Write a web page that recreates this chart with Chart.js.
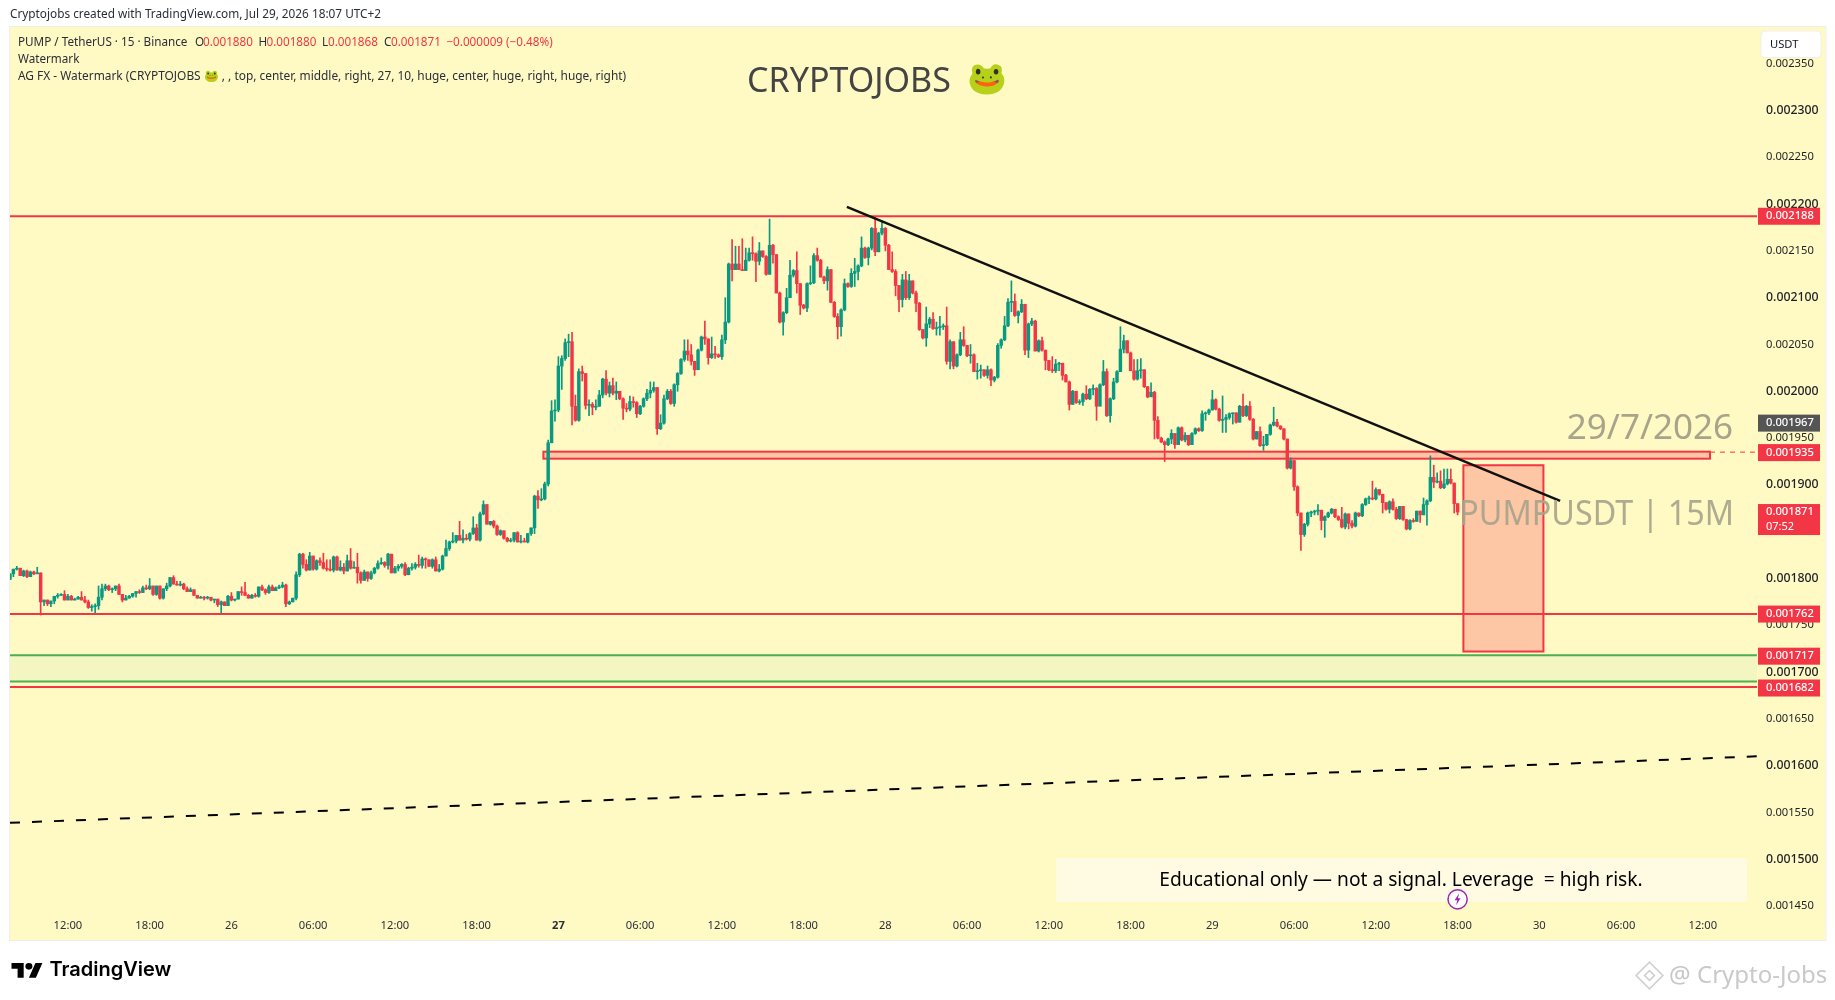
<!DOCTYPE html>
<html>
<head>
<meta charset="utf-8">
<title>PUMPUSDT 15M</title>
<script src="https://cdn.jsdelivr.net/npm/chart.js@4"></script>
<style>
    html, body { margin: 0; padding: 0; background: #ffffff; }
    canvas { display: block; }
</style>
</head>
<body>
<canvas id="priceChart" width="1835" height="1000"></canvas>
<script>
// prices are in millionths of USDT, one entry per 15 minute candle
const firstOpen = 1799;
const closes = [
    1805,1810,1811,1803,1808,1802,1807,1805,1806,1775,
    1777,1773,1776,1781,1782,1783,1777,1781,1777,1778,
    1780,1777,1775,1769,1770,1771,1780,1789,1792,1788,
    1789,1792,1783,1777,1779,1781,1784,1786,1785,1790,
    1789,1792,1783,1792,1779,1789,1792,1801,1794,1793,
    1794,1789,1786,1788,1782,1779,1780,1779,1780,1777,
    1778,1772,1775,1771,1781,1777,1778,1786,1785,1782,
    1779,1782,1781,1791,1788,1785,1791,1787,1790,1791,
    1793,1773,1775,1779,1804,1826,1815,1809,1824,1810,
    1819,1817,1811,1810,1809,1823,1809,1812,1808,1819,
    1811,1812,1806,1798,1807,1800,1806,1811,1816,1817,
    1814,1826,1806,1811,1813,1815,1804,1811,1812,1815,
    1814,1821,1820,1813,1820,1808,1810,1824,1832,1839,
    1840,1846,1841,1843,1842,1848,1854,1841,1869,1879,
    1858,1861,1856,1847,1851,1843,1840,1841,1849,1839,
    1840,1839,1848,1854,1888,1884,1885,1901,1945,1979,
    1980,2027,2035,2052,2053,1984,1969,2021,2019,1985,
    1986,1983,1984,1996,2013,1998,2006,1998,2000,1992,
    1982,1981,1989,1988,1976,1984,1992,1998,2001,2004,
    1960,1966,1992,2000,1987,2007,2019,2034,2043,2039,
    2032,2023,2044,2058,2056,2036,2040,2039,2037,2055,
    2074,2136,2130,2136,2130,2129,2140,2148,2147,2139,
    2150,2144,2125,2156,2146,2105,2074,2084,2100,2124,
    2129,2115,2092,2089,2115,2116,2145,2140,2122,2118,
    2130,2095,2080,2069,2087,2115,2112,2126,2128,2134,
    2153,2143,2153,2174,2149,2169,2174,2156,2130,2128,
    2113,2098,2119,2100,2118,2105,2094,2066,2057,2072,
    2077,2067,2068,2069,2070,2032,2053,2027,2039,2055,
    2049,2038,2039,2021,2022,2023,2017,2023,2012,2015,
    2049,2055,2070,2095,2096,2081,2085,2093,2044,2072,
    2075,2043,2054,2044,2033,2023,2022,2029,2030,2017,
    2010,1986,2000,1988,1989,1997,1992,2002,2003,1984,
    2007,2021,1974,1992,2010,2021,2045,2054,2041,2022,
    2013,2022,2023,2005,1994,1999,1969,1950,1946,1943,
    1949,1955,1943,1961,1948,1953,1943,1955,1960,1958,
    1976,1977,1980,1991,1981,1969,1970,1972,1976,1977,
    1967,1984,1974,1984,1970,1949,1957,1942,1943,1954,
    1964,1967,1963,1960,1949,1918,1926,1898,1870,1847,
    1858,1870,1871,1872,1873,1862,1866,1870,1874,1866,
    1863,1855,1869,1859,1856,1870,1867,1879,1885,1886,
    1885,1895,1890,1881,1874,1882,1874,1864,1877,1863,
    1853,1862,1861,1872,1868,1879,1883,1908,1903,1904,
    1897,1901,1906,1902,1880,1871
];
const highs = [
    1805,1810,1813,1811,1809,1809,1808,1808,1812,1806,
    1777,1777,1776,1781,1784,1784,1787,1783,1782,1779,
    1781,1786,1781,1777,1772,1773,1792,1794,1794,1793,
    1790,1792,1794,1783,1782,1782,1784,1786,1788,1792,
    1793,1800,1792,1792,1792,1789,1795,1801,1803,1797,
    1797,1795,1791,1790,1788,1782,1781,1781,1781,1780,
    1778,1778,1776,1775,1782,1785,1778,1786,1791,1796,
    1783,1783,1784,1791,1793,1789,1793,1793,1791,1793,
    1796,1794,1776,1779,1807,1827,1827,1820,1828,1824,
    1820,1822,1827,1820,1820,1824,1824,1819,1816,1825,
    1832,1818,1827,1807,1809,1807,1808,1812,1819,1822,
    1818,1827,1826,1813,1815,1816,1817,1812,1816,1817,
    1825,1823,1822,1820,1821,1823,1815,1825,1841,1840,
    1849,1846,1861,1852,1847,1849,1866,1858,1871,1883,
    1879,1861,1862,1857,1852,1851,1844,1843,1849,1850,
    1846,1843,1848,1854,1889,1894,1896,1903,1948,1990,
    1991,2037,2038,2056,2061,2063,1996,2024,2027,2019,
    1991,1988,1991,2001,2014,2022,2010,2014,2010,2000,
    1993,1987,1995,1994,1989,1985,1993,2002,2010,2010,
    2004,1975,1996,2002,2002,2008,2020,2035,2055,2055,
    2050,2032,2045,2059,2075,2056,2058,2048,2040,2060,
    2100,2137,2162,2155,2155,2163,2153,2153,2165,2148,
    2159,2150,2145,2184,2157,2146,2106,2085,2110,2140,
    2130,2149,2115,2093,2116,2134,2147,2153,2141,2123,
    2133,2130,2096,2083,2088,2120,2116,2131,2142,2135,
    2165,2154,2154,2175,2187,2170,2182,2175,2157,2149,
    2130,2113,2125,2128,2125,2118,2107,2095,2066,2090,
    2079,2084,2074,2080,2072,2090,2055,2053,2040,2063,
    2069,2049,2050,2040,2030,2028,2023,2027,2024,2016,
    2051,2056,2080,2099,2118,2104,2086,2098,2093,2073,
    2078,2076,2055,2058,2044,2033,2037,2034,2031,2030,
    2018,2011,2001,2000,1991,1998,2006,2003,2007,2004,
    2008,2033,2024,1993,2014,2022,2069,2060,2054,2042,
    2034,2034,2035,2023,2005,2009,2000,1973,1951,1947,
    1950,1959,1953,1962,1962,1956,1952,1956,1961,1961,
    1979,1978,1981,2001,1992,1982,1995,1975,1977,1977,
    1977,1985,1997,1985,1989,1971,1957,1962,1952,1954,
    1965,1983,1970,1963,1960,1949,1929,1926,1899,1870,
    1859,1871,1872,1873,1879,1873,1867,1871,1875,1874,
    1867,1876,1870,1869,1862,1871,1870,1880,1886,1888,
    1904,1897,1895,1890,1881,1883,1885,1876,1877,1877,
    1863,1863,1864,1872,1872,1886,1884,1931,1921,1913,
    1915,1917,1917,1917,1902,1880
];
const lows = [
    1799,1802,1809,1803,1802,1801,1802,1804,1805,1761,
    1771,1771,1770,1773,1779,1782,1777,1777,1777,1777,
    1778,1777,1774,1768,1765,1763,1767,1777,1787,1787,
    1785,1787,1783,1775,1777,1779,1780,1780,1784,1785,
    1788,1788,1782,1782,1778,1778,1787,1791,1794,1793,
    1792,1788,1786,1786,1782,1779,1779,1777,1778,1776,
    1774,1770,1763,1771,1771,1776,1776,1778,1782,1782,
    1779,1779,1780,1780,1787,1783,1784,1787,1787,1789,
    1790,1770,1772,1775,1777,1802,1811,1808,1809,1809,
    1809,1814,1810,1808,1808,1807,1809,1808,1805,1808,
    1810,1811,1795,1795,1798,1797,1799,1805,1810,1815,
    1812,1810,1806,1806,1808,1811,1803,1804,1809,1810,
    1812,1811,1811,1813,1811,1808,1807,1809,1824,1830,
    1838,1838,1841,1838,1841,1840,1847,1841,1840,1868,
    1858,1857,1854,1846,1846,1842,1839,1839,1839,1839,
    1838,1839,1838,1846,1848,1875,1883,1884,1899,1945,
    1968,1978,2002,2033,2037,1964,1968,1968,2011,1981,
    1974,1975,1980,1984,1993,1996,1994,1996,1991,1991,
    1970,1978,1979,1983,1972,1975,1983,1990,1993,1999,
    1954,1959,1965,1991,1986,1984,2000,2018,2032,2033,
    2028,2017,2023,2043,2050,2029,2035,2035,2036,2034,
    2051,2073,2118,2130,2130,2129,2129,2139,2140,2117,
    2135,2143,2124,2125,2137,2105,2073,2060,2083,2100,
    2122,2105,2082,2088,2085,2114,2115,2139,2122,2115,
    2108,2095,2079,2056,2059,2086,2111,2111,2112,2119,
    2133,2142,2135,2151,2145,2149,2167,2150,2130,2127,
    2102,2085,2090,2098,2098,2104,2085,2065,2056,2048,
    2068,2066,2060,2060,2066,2029,2024,2024,2026,2038,
    2048,2037,2030,2021,2013,2014,2016,2014,2006,2010,
    2014,2046,2054,2069,2085,2080,2073,2084,2039,2036,
    2070,2043,2042,2043,2023,2022,2020,2020,2022,2012,
    2010,1980,1986,1987,1986,1985,1991,1991,1996,1969,
    1985,2006,1973,1967,1991,2009,2021,2041,2041,2022,
    2012,2012,2014,2004,1993,1995,1949,1949,1945,1925,
    1942,1944,1939,1945,1947,1946,1942,1944,1954,1957,
    1957,1969,1975,1980,1980,1968,1956,1956,1970,1965,
    1966,1967,1973,1973,1969,1948,1949,1941,1937,1942,
    1953,1963,1962,1959,1948,1917,1917,1894,1867,1830,
    1845,1856,1866,1868,1868,1852,1844,1865,1869,1865,
    1862,1854,1853,1853,1854,1855,1866,1866,1878,1880,
    1884,1884,1889,1870,1873,1870,1873,1863,1863,1862,
    1852,1852,1860,1861,1860,1868,1857,1882,1897,1902,
    1896,1896,1900,1901,1870,1868
];

const timeTickIndex = [17,41,65,89,113,137,161,185,209,233,257,281,305,329,353,377,401,425,449,473,497];
const timeTickLabels = ["12:00","18:00","26","06:00","12:00","18:00","27","06:00","12:00","18:00","28","06:00","12:00","18:00","29","06:00","12:00","18:00","30","06:00","12:00"];
const priceTicks = [1450,1500,1550,1600,1650,1700,1750,1800,1850,1900,1950,2000,2050,2100,2150,2200,2250,2300,2350];

const xRange = [0, 512.9];
const yRange = [1443.7, 2389.2];

// drawings on the chart: [start, end] in candle index and price
const redLevels = [2187, 1762, 1684];
const greenBand = [1718, 1690];
const zoneX = [156.6, 499.1];
const zoneY = [1928, 1935.5];
const targetX = [426.7, 450.2];
const targetY = [1722, 1921];
const trendX = [245.7, 455.1];
const trendY = [2197, 1883];
const longTrendX = [0, 512.9];
const longTrendY = [1539, 1610];

// boxes on the price axis
const axisLabels = [
    { price: 2187, text: "0.002188", color: "#f23645" },
    { price: 1966, text: "0.001967", color: "#555555" },
    { price: 1934.5, text: "0.001935", color: "#f23645" },
    { price: 1762, text: "0.001762", color: "#f23645" },
    { price: 1717, text: "0.001717", color: "#f23645" },
    { price: 1683, text: "0.001682", color: "#f23645" }
];
const lastPrice = { price: 1871, text: "0.001871", countdown: "07:52" };

const UP = "#089981";
const DOWN = "#f23645";
const FONT = '"Noto Sans", sans-serif';

const opens = [firstOpen].concat(closes.slice(0, -1));
const candleColors = closes.map((c, i) => (c >= opens[i] ? UP : DOWN));

function seg(xs, ys) {
    return xs.map((x, i) => ({ x: x, y: ys[i] }));
}

function lineSet(points, color, width, order, extra) {
    return Object.assign({
        type: "line",
        data: points,
        borderColor: color,
        borderWidth: width,
        pointRadius: 0,
        tension: 0,
        fill: false,
        order: order
    }, extra || {});
}

const datasets = [
    {
        label: "wicks",
        data: closes.map((c, i) => ({ x: i, y: [lows[i], highs[i]] })),
        backgroundColor: candleColors,
        barThickness: 1,
        grouped: false,
        order: 6
    },
    {
        label: "bodies",
        data: closes.map((c, i) => ({ x: i, y: [opens[i], c] })),
        backgroundColor: candleColors,
        barThickness: 2.8,
        grouped: false,
        order: 5
    },
    lineSet(seg(xRange, [greenBand[0], greenBand[0]]), "#4caf50", 2, 3, { fill: "+1", backgroundColor: "#f3f6c0" }),
    lineSet(seg(xRange, [greenBand[1], greenBand[1]]), "#4caf50", 2, 2),
    lineSet(seg([zoneX[1], xRange[1]], [1935, 1935]), DOWN, 1, 2, { borderDash: [5, 5] }),
    lineSet(seg(trendX, trendY), "#111111", 2.5, 0),
    lineSet(seg(longTrendX, longTrendY), "#000000", 2, 0, { borderDash: [10, 12] })
];
redLevels.forEach(function (level) {
    datasets.push(lineSet(seg(xRange, [level, level]), DOWN, 2, 1));
});

function drawRect(chart, xs, ys, fill) {
    const ctx = chart.ctx;
    const x0 = chart.scales.x.getPixelForValue(xs[0]);
    const x1 = chart.scales.x.getPixelForValue(xs[1]);
    const y0 = chart.scales.y.getPixelForValue(ys[1]);
    const y1 = chart.scales.y.getPixelForValue(ys[0]);
    ctx.fillStyle = fill;
    ctx.fillRect(x0, y0, x1 - x0, y1 - y0);
    ctx.strokeStyle = DOWN;
    ctx.lineWidth = 2;
    ctx.strokeRect(x0, y0, x1 - x0, y1 - y0);
}

function text(ctx, str, x, y, font, color, align) {
    ctx.font = font;
    ctx.fillStyle = color;
    ctx.textAlign = align || "left";
    ctx.textBaseline = "middle";
    ctx.fillText(str, x, y);
}

function drawLegend(ctx) {
    const dark = "#2a2e39";
    const f = "11.7px " + FONT;
    text(ctx, "PUMP / TetherUS · 15 · Binance", 18, 43, f, dark);
    text(ctx, "O", 195, 43, f, dark);
    text(ctx, "0.001880", 203, 43, f, DOWN);
    text(ctx, "H", 258.5, 43, f, dark);
    text(ctx, "0.001880", 266.5, 43, f, DOWN);
    text(ctx, "L", 322, 43, f, dark);
    text(ctx, "0.001868", 328, 43, f, DOWN);
    text(ctx, "C", 384, 43, f, dark);
    text(ctx, "0.001871", 391, 43, f, DOWN);
    text(ctx, "−0.000009 (−0.48%)", 446.4, 43, f, DOWN);
    text(ctx, "Watermark", 18, 60, f, dark);
    text(ctx, "AG FX - Watermark (CRYPTOJOBS 🐸 , , top, center, middle, right, 27, 10, huge, center, huge, right, huge, right)", 18, 77, "11.9px " + FONT, dark);
}

function drawPriceAxisBoxes(chart) {
    const ctx = chart.ctx;
    const y = chart.scales.y;
    const bold = "500 11.2px " + FONT;
    axisLabels.forEach(function (l) {
        const py = y.getPixelForValue(l.price);
        ctx.fillStyle = l.color;
        ctx.fillRect(1758, py - 8.5, 62, 17);
        text(ctx, l.text, 1766, py, bold, "#ffffff");
    });
    const py = y.getPixelForValue(lastPrice.price);
    ctx.fillStyle = DOWN;
    ctx.fillRect(1758, py - 8, 62, 31);
    text(ctx, lastPrice.text, 1766, py, bold, "#ffffff");
    text(ctx, lastPrice.countdown, 1766, py + 14.5, "11px " + FONT, "#ffffff");

    // USDT button
    ctx.fillStyle = "#ffffff";
    ctx.strokeStyle = "#f0f0ea";
    ctx.lineWidth = 1;
    ctx.beginPath();
    ctx.roundRect(1761, 31, 60, 26.5, 4);
    ctx.fill();
    ctx.stroke();
    text(ctx, "USDT", 1770, 44.5, "11.2px " + FONT, "#131722");
}

function drawBolt(chart) {
    const ctx = chart.ctx;
    const cx = chart.scales.x.getPixelForValue(425);
    const cy = 899.3;
    ctx.beginPath();
    ctx.arc(cx, cy, 9.6, 0, Math.PI * 2);
    ctx.fillStyle = "#ffffff";
    ctx.fill();
    ctx.strokeStyle = "#9c27b0";
    ctx.lineWidth = 1.5;
    ctx.stroke();
    ctx.beginPath();
    ctx.moveTo(cx + 1.5, cy - 6);
    ctx.lineTo(cx - 3, cy + 1);
    ctx.lineTo(cx - 0.3, cy + 1);
    ctx.lineTo(cx - 1.5, cy + 6);
    ctx.lineTo(cx + 3, cy - 1);
    ctx.lineTo(cx + 0.3, cy - 1);
    ctx.closePath();
    ctx.fillStyle = "#9c27b0";
    ctx.fill();
}

function drawLogo(ctx) {
    ctx.save();
    ctx.translate(11.5, 959.8);
    ctx.scale(0.87, 0.82);
    ctx.fillStyle = "#000000";
    ctx.fill(new Path2D("M14 22H7V11H0V4h14v18zM28 22h-8l7.5-18h8L28 22z"));
    ctx.beginPath();
    ctx.arc(20, 8, 4, 0, Math.PI * 2);
    ctx.fill();
    ctx.restore();
    text(ctx, "TradingView", 49.5, 970, "600 20px Inter, sans-serif", "#000000");
}

function drawCredit(ctx) {
    // binance mark next to the credit
    const cx = 1649.5, cy = 975.5;
    ctx.save();
    ctx.strokeStyle = "#d0d0d0";
    ctx.lineWidth = 1.6;
    ctx.translate(cx, cy);
    ctx.rotate(Math.PI / 4);
    ctx.strokeRect(-3.5, -3.5, 7, 7);
    ctx.strokeRect(-9.5, -9.5, 19, 19);
    ctx.restore();
    text(ctx, "@", 1669, 976, "24px " + FONT, "#c6c6c6");
    text(ctx, "Crypto-Jobs", 1697, 976, "24px " + FONT, "#c9c9c9");
}

const paperPlugin = {
    id: "paper",
    beforeDraw(chart) {
        const ctx = chart.ctx;
        ctx.save();
        ctx.fillStyle = "#ffffff";
        ctx.fillRect(0, 0, 1835, 1000);
        ctx.fillStyle = "#fff9c4";
        ctx.fillRect(10, 27, 1815.5, 913);
        ctx.strokeStyle = "#eeeeea";
        ctx.lineWidth = 1;
        ctx.strokeRect(9.5, 26.5, 1816.5, 914);
        text(ctx, "Cryptojobs created with TradingView.com, Jul 29, 2026 18:07 UTC+2", 10, 15, "11.8px " + FONT, "#2a2e39");
        ctx.restore();
    },
    beforeDatasetsDraw(chart) {
        const a = chart.chartArea;
        const ctx = chart.ctx;
        ctx.save();
        ctx.beginPath();
        ctx.rect(a.left, a.top, a.right - a.left, a.bottom - a.top);
        ctx.clip();
        drawRect(chart, zoneX, zoneY, "#fdc6a4");
        drawRect(chart, targetX, targetY, "#fdc6a4");
        ctx.restore();
    },
    afterDraw(chart) {
        const ctx = chart.ctx;
        ctx.save();
        const mark = "#a8a48b";
        text(ctx, "CRYPTOJOBS", 747, 82, "34px " + FONT, "#444444");
        text(ctx, "🐸", 967, 80, "32px " + FONT, "#444444");
        text(ctx, "29/7/2026", 1733, 429, "35px " + FONT, mark, "right");
        ctx.save();
        ctx.translate(1734, 515);
        ctx.scale(0.936, 1);
        ctx.globalAlpha = 0.92;
        text(ctx, "PUMPUSDT | 15M", 0, 0, "34.5px " + FONT, mark, "right");
        ctx.restore();
        ctx.fillStyle = "#fffbe3";
        ctx.fillRect(1056, 858, 691, 44);
        text(ctx, "Educational only — not a signal. Leverage  = high risk.", 1401, 880.5, "19.2px " + FONT, "#000000", "center");
        drawBolt(chart);
        drawLegend(ctx);
        drawPriceAxisBoxes(chart);
        drawLogo(ctx);
        drawCredit(ctx);
        ctx.restore();
    }
};

new Chart(document.getElementById("priceChart"), {
    type: "bar",
    data: { datasets: datasets },
    options: {
        responsive: false,
        animation: false,
        events: [],
        layout: { padding: { left: 10, top: 27, right: 9, bottom: 60 } },
        plugins: { legend: { display: false }, title: { display: false }, tooltip: { enabled: false } },
        scales: {
            x: {
                type: "linear",
                offset: false,
                min: xRange[0],
                max: xRange[1],
                grid: { display: false, drawTicks: false },
                border: { display: false },
                afterFit: function (scale) { scale.height = 28; },
                afterBuildTicks: function (scale) {
                    scale.ticks = timeTickIndex.map(v => ({ value: v }));
                },
                ticks: {
                    autoSkip: false,
                    maxRotation: 0,
                    padding: 7,
                    color: "#2a2e39",
                    font: function (c) {
                        return c.index === 6
                            ? { family: FONT, size: 11.2, weight: "bold" }
                            : { family: FONT, size: 11.2 };
                    },
                    callback: function (value, index) { return timeTickLabels[index]; }
                }
            },
            y: {
                position: "right",
                min: yRange[0],
                max: yRange[1],
                grid: { display: false, drawTicks: false },
                border: { display: false },
                afterFit: function (scale) { scale.width = 69; },
                afterBuildTicks: function (scale) {
                    scale.ticks = priceTicks.map(v => ({ value: v }));
                },
                ticks: {
                    autoSkip: false,
                    padding: 9,
                    crossAlign: "near",
                    color: "#1c1f26",
                    font: function (c) {
                        return c.tick && c.tick.value % 100 === 0
                            ? { family: FONT, size: 12.3, weight: "500" }
                            : { family: FONT, size: 11.2 };
                    },
                    callback: function (value) { return (value / 1e6).toFixed(6); }
                }
            }
        }
    },
    plugins: [paperPlugin]
});
</script>
</body>
</html>
